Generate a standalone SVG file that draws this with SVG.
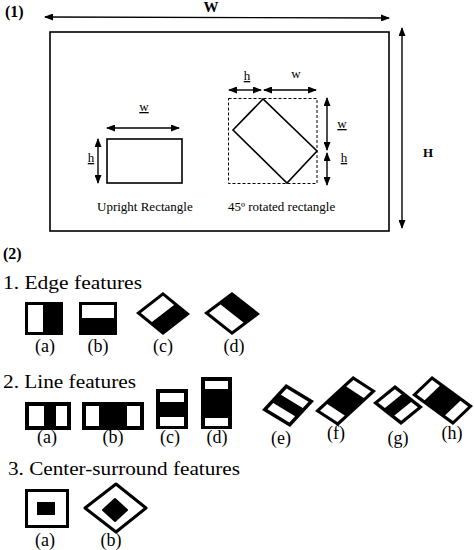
<svg xmlns="http://www.w3.org/2000/svg" width="474" height="550" viewBox="0 0 474 550">
<style>
text{font-family:"Liberation Serif","Times New Roman",serif;fill:#000}
.hd{font-weight:bold;font-size:16px}
.ttl{font-size:19px}
.lb{font-size:18px;text-anchor:middle}
.sm{font-size:13px}
.dim{font-size:13px;text-anchor:middle;text-decoration:underline}
.ln{stroke:#000;stroke-width:1.4;fill:none}
.box{stroke:#000;stroke-width:1.6;fill:none}
.blk{fill:#000}
.wht{fill:#fff}
</style>
<defs>
<marker id="ah" markerUnits="userSpaceOnUse" markerWidth="9" markerHeight="7" refX="8" refY="3.5" orient="auto-start-reverse">
<path d="M0,0 L9,3.5 L0,7 Z" fill="#000"/>
</marker>
</defs>

<rect width="474" height="550" fill="#fff"/>

<!-- Section 1 -->
<text class="hd" x="5" y="17">(1)</text>
<g id="frame">
<rect class="box" x="50" y="32" width="339" height="199"/>
</g>
<g id="upright">
<rect class="box" x="107" y="139" width="75" height="44"/>
<text class="sm" x="97" y="211">Upright Rectangle</text>
</g>
<g id="rotated">
<rect x="228.5" y="98.5" width="88.5" height="85" fill="none" stroke="#000" stroke-width="1" stroke-dasharray="3,2"/>
<polygon class="box" points="263,99 233,130 287,183 317,151"/>
<text class="sm" x="228" y="211">45º rotated rectangle</text>
</g>

<g id="connectors">
<line class="ln" x1="45" y1="17" x2="389" y2="18" marker-start="url(#ah)" marker-end="url(#ah)"/>
<line class="ln" x1="402" y1="28" x2="402" y2="228" marker-start="url(#ah)" marker-end="url(#ah)"/>
<line class="ln" x1="107" y1="128" x2="179" y2="128" marker-start="url(#ah)" marker-end="url(#ah)"/>
<line class="ln" x1="98" y1="139" x2="98" y2="183" marker-start="url(#ah)" marker-end="url(#ah)"/>
<line class="ln" x1="229" y1="90" x2="261" y2="90" marker-start="url(#ah)" marker-end="url(#ah)"/>
<line class="ln" x1="264" y1="90" x2="316" y2="90" marker-start="url(#ah)" marker-end="url(#ah)"/>
<line class="ln" x1="327" y1="98" x2="327" y2="150" marker-start="url(#ah)" marker-end="url(#ah)"/>
<line class="ln" x1="327" y1="153" x2="327" y2="185" marker-start="url(#ah)" marker-end="url(#ah)"/>
</g>

<g id="dimlabels">
<text x="211" y="12" font-size="15" font-weight="bold" text-anchor="middle">W</text>
<text x="428" y="157" font-size="13" font-weight="bold" text-anchor="middle">H</text>
<text class="dim" x="144" y="111">w</text>
<text class="dim" x="91" y="162">h</text>
<text class="dim" x="247" y="80">h</text>
<text x="296" y="78" font-size="13" text-anchor="middle">w</text>
<text class="dim" x="342" y="128">w</text>
<text class="dim" x="344" y="162">h</text>
</g>

<!-- Section 2 -->
<text class="hd" x="3" y="259" font-size="15">(2)</text>
<text class="ttl" x="3" y="289" textLength="139" lengthAdjust="spacingAndGlyphs">1. Edge features</text>
<text class="ttl" x="3" y="388" textLength="133" lengthAdjust="spacingAndGlyphs">2. Line features</text>
<text class="ttl" x="8" y="475" textLength="232" lengthAdjust="spacingAndGlyphs">3. Center-surround features</text>

<!-- Edge features -->
<g id="edge-a">
<rect class="blk" x="25" y="302" width="38" height="33"/>
<rect class="wht" x="28" y="305" width="15" height="27"/>
<text class="lb" x="45" y="352">(a)</text>
</g>
<g id="edge-b">
<rect class="blk" x="79" y="302" width="38" height="33"/>
<rect class="wht" x="82" y="305" width="32" height="13"/>
<text class="lb" x="98" y="352">(b)</text>
</g>
<g id="edge-c">
<g transform="matrix(27,-21,27,22,136,313)">
<rect class="blk" x="0" y="0" width="1" height="1"/>
<rect class="wht" x="0.09" y="0.09" width="0.82" height="0.41"/>
</g>
<text class="lb" x="163" y="352">(c)</text>
</g>
<g id="edge-d">
<g transform="matrix(28,-21,28,22,204,313)">
<rect class="blk" x="0" y="0" width="1" height="1"/>
<rect class="wht" x="0.09" y="0.09" width="0.41" height="0.82"/>
</g>
<text class="lb" x="234" y="352">(d)</text>
</g>

<!-- Line features -->
<g id="line-a">
<rect class="blk" x="25" y="402" width="46" height="28"/>
<rect class="wht" x="29" y="406" width="15" height="20"/>
<rect class="wht" x="56" y="406" width="11" height="20"/>
<text class="lb" x="47" y="443">(a)</text>
</g>
<g id="line-b">
<rect class="blk" x="82" y="402" width="62" height="28"/>
<rect class="wht" x="86" y="406" width="13" height="20"/>
<rect class="wht" x="127" y="406" width="13" height="20"/>
<text class="lb" x="113" y="443">(b)</text>
</g>
<g id="line-c">
<rect class="blk" x="156" y="389" width="32" height="40"/>
<rect class="wht" x="160" y="393" width="24" height="9"/>
<rect class="wht" x="160" y="417" width="24" height="9"/>
<text class="lb" x="170" y="443">(c)</text>
</g>
<g id="line-d">
<rect class="blk" x="201" y="377" width="31" height="52"/>
<rect class="wht" x="205" y="381" width="23" height="8"/>
<rect class="wht" x="205" y="418" width="23" height="8"/>
<text class="lb" x="217" y="443">(d)</text>
</g>
<g id="line-e">
<g transform="matrix(24,-26,28,17,262,410)">
<rect class="blk" x="0" y="0" width="1" height="1"/>
<rect class="wht" x="0.1" y="0.11" width="0.24" height="0.78"/>
<rect class="wht" x="0.66" y="0.11" width="0.24" height="0.78"/>
</g>
<text class="lb" x="281" y="444">(e)</text>
</g>
<g id="line-f">
<g transform="matrix(38,-35,23,15,315,411)">
<rect class="blk" x="0" y="0" width="1" height="1"/>
<rect class="wht" x="0.06" y="0.12" width="0.19" height="0.76"/>
<rect class="wht" x="0.75" y="0.12" width="0.19" height="0.76"/>
</g>
<text class="lb" x="336" y="439">(f)</text>
</g>
<g id="line-g">
<g transform="matrix(22,-18,28,22,373,403)">
<rect class="blk" x="0" y="0" width="1" height="1"/>
<rect class="wht" x="0.12" y="0.09" width="0.76" height="0.24"/>
<rect class="wht" x="0.12" y="0.67" width="0.76" height="0.24"/>
</g>
<text class="lb" x="398" y="444">(g)</text>
</g>
<g id="line-h">
<g transform="matrix(20,-19,41,30,412,395)">
<rect class="blk" x="0" y="0" width="1" height="1"/>
<rect class="wht" x="0.12" y="0.06" width="0.76" height="0.19"/>
<rect class="wht" x="0.12" y="0.75" width="0.76" height="0.19"/>
</g>
<text class="lb" x="452" y="439">(h)</text>
</g>

<!-- Center-surround -->
<g id="cs-a">
<rect x="26.5" y="490.5" width="41" height="36" fill="#fff" stroke="#000" stroke-width="3"/>
<rect class="blk" x="37" y="502" width="18" height="13"/>
<text class="lb" x="45" y="546">(a)</text>
</g>
<g id="cs-b">
<polygon points="85,508 116,484 146,508 116,532" fill="#fff" stroke="#000" stroke-width="3" stroke-linejoin="round"/>
<polygon points="103,510 115,499 127,510 115,521" fill="#000" stroke="#000" stroke-width="2" stroke-linejoin="round"/>
<text class="lb" x="111" y="546">(b)</text>
</g>
</svg>
